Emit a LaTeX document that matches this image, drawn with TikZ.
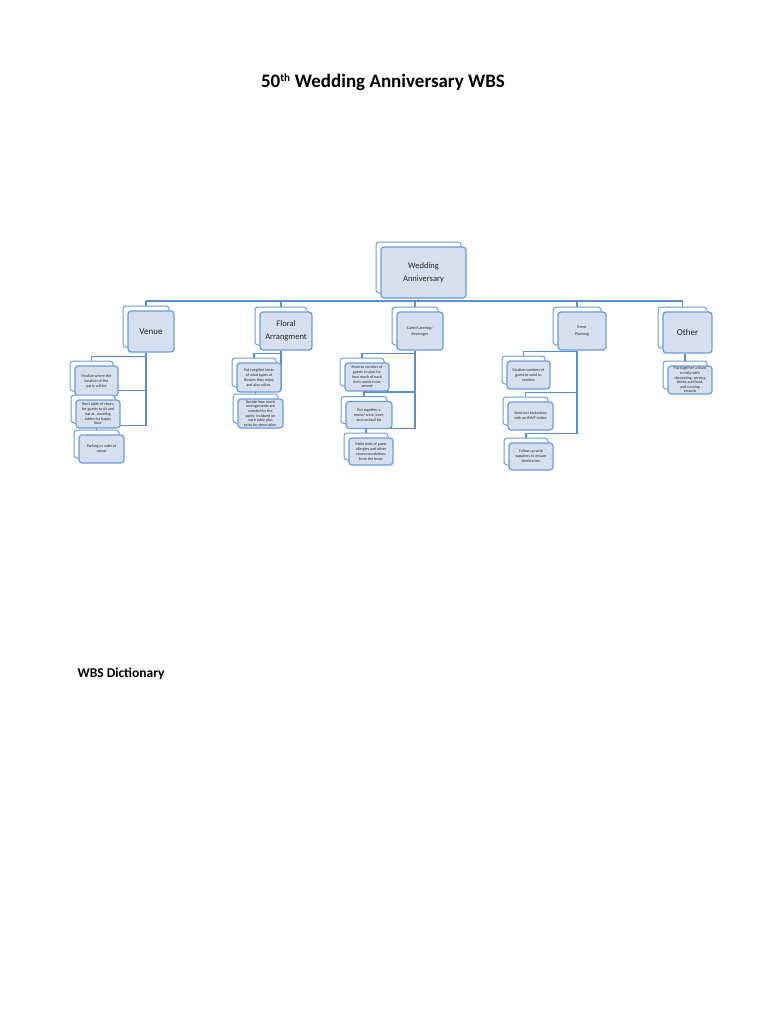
\documentclass[tikz,border=0pt]{standalone}
\usepackage{fontspec}
\setmainfont{Carlito}
\usetikzlibrary{backgrounds}
\definecolor{boxfill}{HTML}{D5DFF0}
\definecolor{boxline}{HTML}{6A9BDA}
\definecolor{connc}{HTML}{5B8FD0}
\tikzset{
  backbox/.style={draw=boxline, fill=white, line width=1pt, rounded corners=3pt, inner sep=0pt},
  frontbox/.style={draw=boxline, fill=boxfill, line width=1.2pt, rounded corners=3pt, inner sep=0pt, align=center, text=black!85},
  connline/.style={draw=connc, line width=1.1pt},
}
% name, cx, cy, w, h, fontsize, skip, text
\newcommand\wbsnode[8]{%
  \node[backbox, minimum width=#4pt, minimum height=#5pt] (#1-b) at (#2-5,#3-5) {};
  \node[frontbox, minimum width=#4pt, minimum height=#5pt, font=\fontsize{#6}{#7}\selectfont] (#1) at (#2,#3) {#8};
}
\begin{document}
\begin{tikzpicture}[x=1pt,y=-1pt]
\useasboundingbox (0,0) rectangle (768,1024);
\node[anchor=base, font=\fontsize{19}{22}\selectfont\bfseries] (title) at (383,88) {50\textsuperscript{\fontsize{11}{12}\selectfont th} Wedding Anniversary WBS};
\node[anchor=base west, font=\fontsize{13.5}{16}\selectfont\bfseries] (dict) at (74,677) {WBS Dictionary};

\wbsnode{root}{423.5}{272.5}{85}{51}{8.5}{13}{Wedding\\Anniversary}
\wbsnode{venue}{151}{331.5}{46}{41}{9}{11}{Venue}
\wbsnode{floral}{286}{331}{52}{38}{8.5}{13}{Floral\\Arrangment}
\wbsnode{cater}{420}{331}{46}{38}{4}{6}{Cater/Catering/\\Beverages}
\wbsnode{event}{582}{331}{48}{38}{4}{6.5}{Event\\Planning}
\wbsnode{other}{687.5}{332.5}{49}{41}{9}{11}{Other}

\wbsnode{v1}{96.5}{381}{43}{30}{4}{5}{Finalize where the\\location of the\\party will be}
\wbsnode{v2}{98}{414}{44}{28}{4}{4.8}{Rent table of chairs\\for guests to sit and\\eat at. standing\\tables for happy\\hour}
\wbsnode{v3}{101.5}{449}{45}{28}{4}{5}{Parking or valet at\\venue}

\wbsnode{f1}{259}{377.5}{44}{29}{4}{5}{Put toegther ideas\\of what types of\\flowers they enjoy\\and also colors.}
\wbsnode{f2}{260.5}{413.5}{45}{29}{4}{4.6}{Decide how much\\arrangements are\\needed for the\\party: incldued on\\each table plus\\extra for decoration.}

\wbsnode{c1}{367}{377}{44}{28}{4}{4.8}{Reserve number of\\guests to plan for\\how much of each\\item needs to be\\served}
\wbsnode{c2}{369}{415}{46}{27}{4}{5}{Put together a\\menu/ wine, beer,\\and cocktail list}
\wbsnode{c3}{371}{451.5}{44}{27}{4}{5}{Make note of guest\\allergies and other\\recommendations\\from the hosts}

\wbsnode{e1}{528.5}{375}{43}{28}{4}{5}{Finalize numbers of\\guest to send to\\vendors}
\wbsnode{e2}{530.5}{416}{45}{28}{4}{5}{Send out invitations\\with an RSVP notice}
\wbsnode{e3}{531}{456.5}{44}{27}{4}{5}{Follow up with\\suppliers to ensure\\timeframes}

\wbsnode{o1}{690}{380}{44}{28}{4}{4.6}{Put together a team\\to help with\\decorating, serving\\drinks and food,\\and running\\errands}

\begin{scope}[on background layer]
  \coordinate (bar) at (0,301);
  \draw[connline] (root.south -| root-b.center) -- (bar -| root-b.center);
  \draw[connline] (bar -| venue-b.center) -- (bar -| other-b.center);
  \foreach \n in {venue,floral,cater,event,other}
    \draw[connline] (bar -| \n-b.center) -- (\n-b.north);
  \foreach \p/\c in {venue/v1,venue/v2,venue/v3,floral/f1,floral/f2,cater/c1,cater/c2,cater/c3,event/e1,event/e2,event/e3}
    \draw[connline] (\p.south -| \p-b.center) |- ([yshift=4pt]\c-b.north) -- (\c-b.north);
  \draw[connline] (o1-b.north) -- (o1-b.north |- other.south);
\end{scope}
\end{tikzpicture}
\end{document}
